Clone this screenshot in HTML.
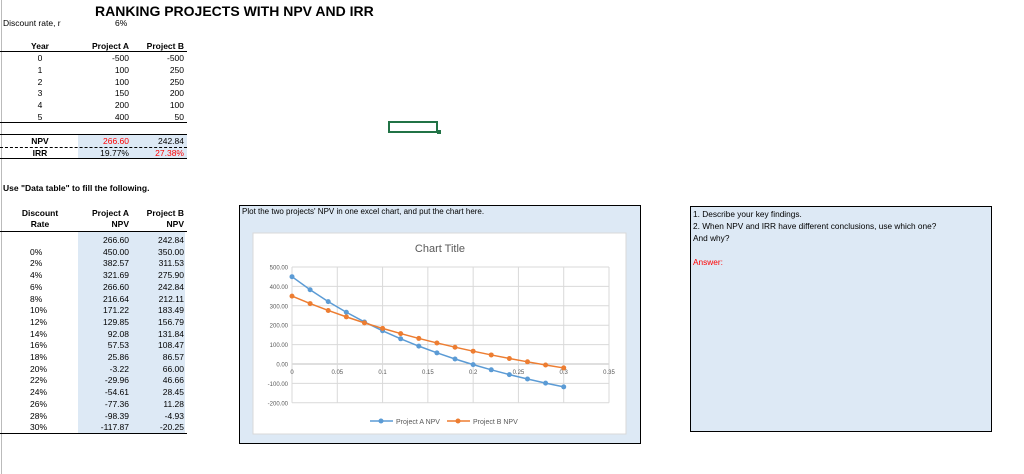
<!DOCTYPE html>
<html><head><meta charset="utf-8"><style>
body{margin:0;width:1024px;height:474px;background:#fff;position:relative;overflow:hidden;font-family:"Liberation Sans",Arial,sans-serif;font-size:8.5px;color:#000}
.t{position:absolute;white-space:nowrap}
.r{text-align:right}
.c{text-align:center}
.b{font-weight:bold}
.ln{position:absolute;height:0;border-top:1.5px solid #000}
.red{color:#f00}
</style></head><body>
<div class="t" style="left:1px;top:0;width:1px;height:474px;background:#bbb"></div>
<div class="t b" style="left:95px;top:3px;font-size:14px">RANKING PROJECTS WITH NPV AND IRR</div>
<div class="t" style="left:3px;top:18px">Discount rate, r</div>
<div class="t" style="left:115px;top:18px">6%</div>

<div class="t b c" style="left:20px;top:41px;width:40px">Year</div>
<div class="t b r" style="left:80px;top:41px;width:49px">Project A</div>
<div class="t b r" style="left:135px;top:41px;width:49px">Project B</div>
<div class="ln" style="left:0;top:51px;width:187px"></div>
<div id="cf"></div>
<div class="ln" style="left:0;top:122px;width:187px"></div>
<div class="t" style="left:78px;top:135px;width:109px;height:23px;background:#dde9f5"></div>
<div class="ln" style="left:0;top:134px;width:187px"></div>
<div class="t b c" style="left:20px;top:136px;width:40px">NPV</div>
<div class="t r red" style="left:80px;top:136px;width:49px">266.60</div>
<div class="t r" style="left:135px;top:136px;width:49px">242.84</div>
<div class="t" style="left:0;top:147px;width:187px;border-top:1.5px dashed #000"></div>
<div class="t b c" style="left:20px;top:148px;width:40px">IRR</div>
<div class="t r" style="left:80px;top:148px;width:49px">19.77%</div>
<div class="t r red" style="left:135px;top:148px;width:49px">27.38%</div>
<div class="ln" style="left:0;top:158px;width:187px"></div>

<div class="t b" style="left:3px;top:183px">Use "Data table" to fill the following.</div>
<div class="t b c" style="left:15px;top:208px;width:50px">Discount</div>
<div class="t b c" style="left:15px;top:219px;width:50px">Rate</div>
<div class="t b r" style="left:80px;top:208px;width:49px">Project A</div>
<div class="t b r" style="left:80px;top:219px;width:49px">NPV</div>
<div class="t b r" style="left:135px;top:208px;width:49px">Project B</div>
<div class="t b r" style="left:135px;top:219px;width:49px">NPV</div>
<div class="t" style="left:78px;top:232px;width:107px;height:202px;background:#dde9f5"></div>
<div class="ln" style="left:0;top:231px;width:187px"></div>
<div id="dt"></div>
<div class="ln" style="left:0;top:433px;width:187px"></div>

<div class="t" style="left:388px;top:121px;width:50px;height:12px;border:2px solid #217346;box-sizing:border-box"></div>
<div class="t" style="left:437px;top:130px;width:4px;height:4px;background:#217346"></div>

<div class="t" style="left:239px;top:205px;width:402px;height:239px;background:#dde9f5;border:1px solid #000;box-sizing:border-box"></div>
<div class="t" style="left:242px;top:207px;font-size:8px">Plot the two projects' NPV in one excel chart, and put the chart here.</div>

<svg class="t" style="left:0;top:0" width="1024" height="474">
<rect x="253" y="233" width="373" height="201" fill="#fff" stroke="#d9d9d9"/>
<text x="440" y="252" text-anchor="middle" font-size="11" fill="#595959" font-family="Liberation Sans, sans-serif">Chart Title</text>
<g id="grid"></g><g id="series"></g>
<g>
<line x1="370" y1="421" x2="393" y2="421" stroke="#5b9bd5" stroke-width="1.5"/><circle cx="381" cy="421" r="2.5" fill="#5b9bd5"/>
<text x="396" y="424" font-size="7" fill="#595959" font-family="Liberation Sans, sans-serif">Project A NPV</text>
<line x1="447" y1="421" x2="470" y2="421" stroke="#ed7d31" stroke-width="1.5"/><circle cx="458" cy="421" r="2.5" fill="#ed7d31"/>
<text x="473" y="424" font-size="7" fill="#595959" font-family="Liberation Sans, sans-serif">Project B NPV</text>
</g>
</svg>

<div class="t" style="left:690px;top:206px;width:302px;height:226px;background:#dde9f5;border:1px solid #000;box-sizing:border-box;padding:1px 2px;white-space:normal;font-size:8.3px;line-height:12px">1. Describe your key findings.<br>2. When NPV and IRR have different conclusions, use which one?<br>And why?<br><br><span class="red">Answer:</span></div>

<script>
const years=[0,1,2,3,4,5];
const cashA=[-500,100,100,150,200,400];
const cashB=[-500,250,250,200,100,50];
const rates=[0,0.02,0.04,0.06,0.08,0.10,0.12,0.14,0.16,0.18,0.20,0.22,0.24,0.26,0.28,0.30];
const npvA=[450.00,382.57,321.69,266.60,216.64,171.22,129.85,92.08,57.53,25.86,-3.22,-29.96,-54.61,-77.36,-98.39,-117.87];
const npvB=[350.00,311.53,275.90,242.84,212.11,183.49,156.79,131.84,108.47,86.57,66.00,46.66,28.45,11.28,-4.93,-20.25];
const yTicks=[500,400,300,200,100,0,-100,-200];
const xTicks=[0,0.05,0.1,0.15,0.2,0.25,0.3,0.35];
const xLabels=["0","0.05","0.1","0.15","0.2","0.25","0.3","0.35"];

function mk(parent,html,style,name,inter){const d=document.createElement('div');d.className='t '+(style.cls||'');d.style.cssText=style.css;d.textContent=html;


parent.appendChild(d);}
const cf=document.getElementById('cf');
years.forEach((y,i)=>{const top=53+i*11.8;
mk(cf,String(y),{cls:'c',css:`left:20px;top:${top}px;width:40px`},'year-cell','false');
mk(cf,String(cashA[i]),{cls:'r',css:`left:80px;top:${top}px;width:49px`},'cash-a-cell','true');
mk(cf,String(cashB[i]),{cls:'r',css:`left:135px;top:${top}px;width:49px`},'cash-b-cell','true');});
const dt=document.getElementById('dt');
mk(dt,'266.60',{cls:'r',css:`left:80px;top:235px;width:49px`},'dt-ref-a','true');
mk(dt,'242.84',{cls:'r',css:`left:135px;top:235px;width:49px`},'dt-ref-b','true');
rates.forEach((r,i)=>{const top=246.7+i*11.7;
mk(dt,Math.round(r*100)+'%',{cls:'',css:`left:30px;top:${top}px`},'dt-rate','false');
mk(dt,npvA[i].toFixed(2),{cls:'r',css:`left:80px;top:${top}px;width:49px`},'dt-npv-a','true');
mk(dt,npvB[i].toFixed(2),{cls:'r',css:`left:135px;top:${top}px;width:49px`},'dt-npv-b','true');});

const X0=292,X1=609,Y500=267,Y0=364;
const xs=v=>X0+(X1-X0)*v/0.35;
const ys=v=>Y0-(Y0-Y500)*v/500;
const NS='http://www.w3.org/2000/svg';
function el(p,tag,at,name){const e=document.createElementNS(NS,tag);for(const k in at)e.setAttribute(k,at[k]);


p.appendChild(e);return e;}
const g=document.getElementById('grid');
yTicks.forEach(t=>{el(g,'line',{x1:X0,x2:X1,y1:ys(t),y2:ys(t),stroke:t===0?'#bfbfbf':'#d9d9d9','stroke-width':1},'y-gridline');
const tx=el(g,'text',{x:X0-4,y:ys(t)+2.5,'text-anchor':'end','font-size':6,fill:'#595959','font-family':'Liberation Sans, sans-serif'},'y-tick-label');tx.textContent=t.toFixed(2);});
xTicks.forEach((t,i)=>{el(g,'line',{x1:xs(t),x2:xs(t),y1:ys(500),y2:ys(-200),stroke:'#d9d9d9','stroke-width':1},'x-gridline');
const tx=el(g,'text',{x:xs(t),y:ys(0)+10,'text-anchor':'middle','font-size':6,fill:'#595959','font-family':'Liberation Sans, sans-serif'},'x-tick-label');tx.textContent=xLabels[i];});
const s=document.getElementById('series');
[[npvA,'#5b9bd5','project-a'],[npvB,'#ed7d31','project-b']].forEach(([d,c,n])=>{
el(s,'polyline',{points:d.map((v,i)=>xs(rates[i])+','+ys(v)).join(' '),fill:'none',stroke:c,'stroke-width':1.5},n+'-line');
d.forEach((v,i)=>el(s,'circle',{cx:xs(rates[i]),cy:ys(v),r:2.5,fill:c},n+'-point'));});
</script>
</body></html>
